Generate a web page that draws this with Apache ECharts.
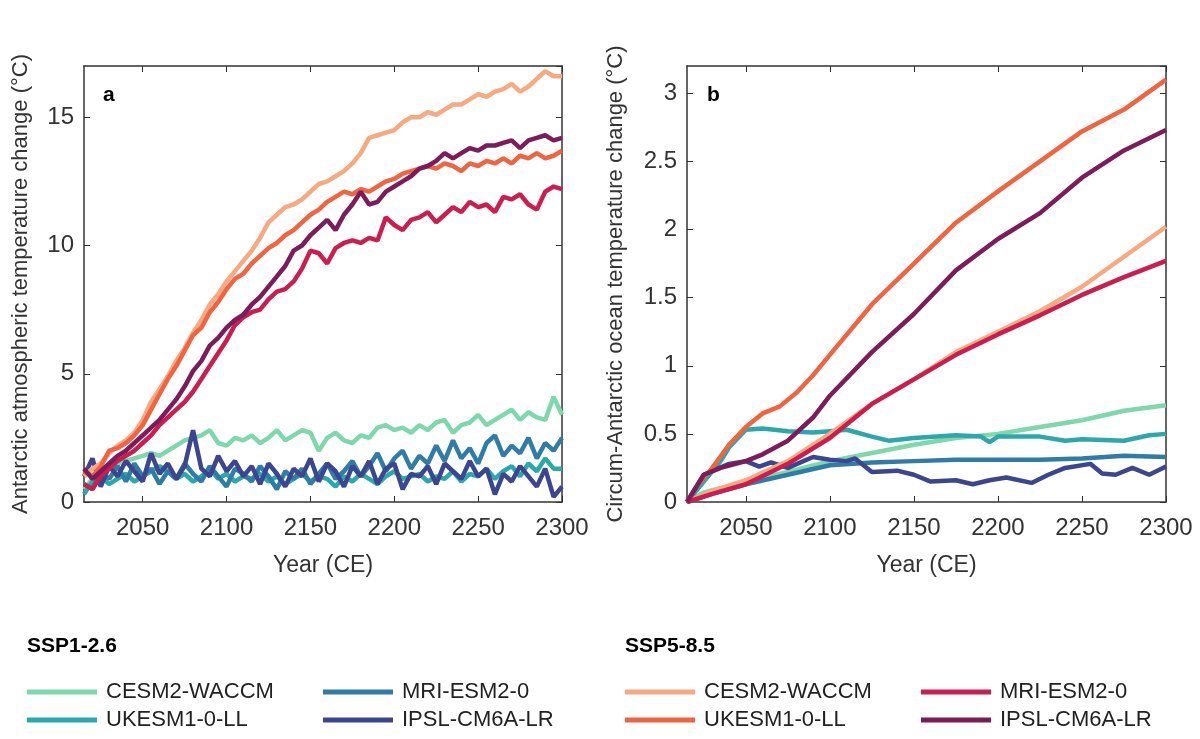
<!DOCTYPE html>
<html>
<head>
<meta charset="utf-8">
<script src="https://cdn.jsdelivr.net/npm/echarts@6/dist/echarts.min.js"></script>
<style>
  html, body { margin: 0; padding: 0; background: #fff; }
  #chart { width: 1200px; height: 739px; }
</style>
</head>
<body>
<div id="chart"></div>
<script>
// panel a: 5-year steps, 2015..2300
const yearsA = [];
for (let y = 2015; y <= 2300; y += 5) yearsA.push(y);

const atmSSP1 = {
  "CESM2-WACCM": [0.5,0.9,1.2,1.3,1.5,1.6,1.7,1.8,1.9,1.8, 2.0,2.2,2.4,2.5,2.6,2.8,2.3,2.2,2.5,2.4, 2.6,2.3,2.5,2.8,2.4,2.6,2.8,2.7,2.0,2.5, 2.7,2.4,2.3,2.6,2.5,2.9,3.0,2.8,2.9,2.7, 3.0,2.8,3.1,3.2,2.7,3.0,3.1,3.4,3.0,3.2, 3.4,3.6,3.2,3.5,3.3,3.2,4.1,3.4],
  "UKESM1-0-LL": [0.3,0.8,1.0,0.7,0.9,1.1,0.8,1.0,1.2,1.4, 1.2,0.9,1.1,0.8,1.0,1.3,0.9,1.1,0.8,1.0, 0.9,1.1,0.8,1.0,0.7,0.9,1.1,0.8,1.0,0.9, 0.6,1.0,0.8,1.1,0.9,0.7,1.0,1.2,0.9,1.0, 1.1,0.8,1.0,0.9,1.2,0.8,1.1,1.0,1.3,0.9, 1.2,1.4,1.0,1.5,1.2,1.7,1.3,1.3],
  "MRI-ESM2-0": [0.7,0.5,1.2,0.9,1.4,0.8,1.5,1.0,1.3,0.7, 1.2,0.9,1.5,1.1,0.8,1.4,1.0,0.6,1.3,1.1, 0.8,1.4,1.0,0.5,1.2,0.9,1.3,0.7,1.1,1.5, 0.9,1.2,1.6,1.0,1.4,1.9,1.2,1.7,2.0,1.3, 1.8,1.5,2.2,1.6,2.4,1.7,2.1,1.5,2.3,2.6, 1.8,2.2,1.9,2.5,1.7,2.3,2.0,2.5],
  "IPSL-CM6A-LR": [1.0,1.7,0.6,1.4,1.0,1.6,1.2,0.8,1.9,1.1, 1.5,0.9,1.4,2.8,1.3,1.0,1.8,1.2,1.6,1.0, 1.4,0.7,1.5,1.1,0.6,1.3,1.0,1.7,0.8,1.5, 1.2,0.6,1.4,1.0,1.6,0.7,1.3,1.5,0.5,1.1, 1.0,1.4,0.7,1.5,1.2,0.9,1.6,1.0,1.3,0.3, 1.1,0.8,1.4,1.0,0.6,1.3,0.2,0.6]
};
const atmSSP5 = {
  "CESM2-WACCM": [1.0,1.3,1.5,1.9,2.2,2.4,2.7,3.2,3.9,4.4, 4.9,5.5,6.0,6.6,7.1,7.7,8.1,8.6,9.0,9.4, 9.8,10.3,10.9,11.2,11.5,11.6,11.8,12.1,12.4,12.5, 12.7,12.9,13.2,13.6,14.2,14.3,14.4,14.5,14.8,15.0, 15.0,15.2,15.1,15.3,15.5,15.5,15.7,15.9,15.8,16.0, 16.1,16.3,16.0,16.2,16.5,16.8,16.6,16.6],
  "UKESM1-0-LL": [1.2,1.0,1.4,2.0,2.1,2.3,2.6,3.0,3.6,4.2, 4.8,5.3,5.9,6.5,6.8,7.4,7.8,8.3,8.7,8.9, 9.3,9.6,9.9,10.1,10.4,10.6,10.9,11.2,11.4,11.7, 11.9,12.1,12.0,12.2,12.1,12.3,12.5,12.6,12.8,12.9, 13.0,13.1,13.0,13.2,13.1,12.9,13.2,13.1,13.3,13.2, 13.4,13.2,13.5,13.4,13.6,13.4,13.5,13.7],
  "MRI-ESM2-0": [0.7,0.5,1.0,1.3,1.6,1.8,2.0,2.3,2.6,3.0, 3.3,3.6,3.9,4.3,4.8,5.3,5.8,6.3,6.9,7.2, 7.4,7.5,7.9,8.2,8.3,8.6,9.1,9.8,9.7,9.3, 9.9,10.1,10.2,10.1,10.3,10.2,11.1,10.8,10.6,11.0, 11.1,11.3,10.9,11.2,11.5,11.3,11.7,11.5,11.6,11.3, 11.9,11.8,12.0,11.6,11.4,12.1,12.3,12.2],
  "IPSL-CM6A-LR": [1.3,0.9,1.2,1.5,1.8,2.0,2.3,2.6,2.9,3.2, 3.6,4.0,4.5,5.1,5.5,6.1,6.4,6.8,7.1,7.3, 7.7,8.0,8.4,8.8,9.2,9.8,10.0,10.4,10.7,11.0, 10.6,11.2,11.6,12.1,11.6,11.7,12.1,12.3,12.5,12.7, 13.0,13.1,13.3,13.6,13.4,13.6,13.8,13.7,13.9,13.9, 14.0,14.1,13.8,14.1,14.2,14.3,14.1,14.2]
};

// panel b: [year, value] pairs
const ocnSSP1 = {
  "CESM2-WACCM": [[2015,0],[2025,0.07],[2050,0.15],[2075,0.22],[2100,0.3],[2125,0.36],[2150,0.42],[2175,0.47],[2200,0.5],[2225,0.55],[2250,0.6],[2275,0.67],[2300,0.71]],
  "UKESM1-0-LL": [[2015,0],[2025,0.15],[2035,0.3],[2040,0.4],[2050,0.53],[2060,0.54],[2075,0.52],[2090,0.51],[2100,0.52],[2110,0.53],[2125,0.48],[2135,0.45],[2150,0.47],[2175,0.49],[2190,0.48],[2195,0.44],[2200,0.48],[2225,0.48],[2240,0.45],[2250,0.46],[2275,0.45],[2290,0.49],[2300,0.5]],
  "MRI-ESM2-0": [[2015,0],[2030,0.06],[2050,0.13],[2075,0.2],[2100,0.27],[2125,0.29],[2150,0.3],[2175,0.31],[2200,0.31],[2225,0.31],[2250,0.32],[2275,0.34],[2300,0.33]],
  "IPSL-CM6A-LR": [[2015,0],[2025,0.2],[2040,0.28],[2050,0.3],[2058,0.26],[2065,0.29],[2075,0.25],[2090,0.33],[2100,0.31],[2110,0.3],[2115,0.32],[2125,0.22],[2140,0.23],[2150,0.2],[2160,0.15],[2175,0.16],[2185,0.13],[2195,0.16],[2205,0.18],[2220,0.14],[2230,0.2],[2240,0.25],[2255,0.28],[2262,0.21],[2270,0.2],[2280,0.25],[2290,0.2],[2300,0.26]]
};
const ocnSSP5 = {
  "CESM2-WACCM": [[2015,0],[2030,0.08],[2050,0.16],[2075,0.3],[2100,0.5],[2125,0.72],[2150,0.9],[2175,1.1],[2200,1.25],[2225,1.4],[2250,1.58],[2275,1.8],[2300,2.02]],
  "UKESM1-0-LL": [[2015,0],[2020,0.1],[2030,0.25],[2040,0.42],[2050,0.55],[2060,0.65],[2070,0.7],[2080,0.8],[2090,0.93],[2100,1.08],[2125,1.45],[2150,1.75],[2175,2.05],[2200,2.28],[2225,2.5],[2250,2.72],[2275,2.88],[2300,3.1]],
  "MRI-ESM2-0": [[2015,0],[2030,0.06],[2050,0.13],[2075,0.28],[2100,0.47],[2125,0.72],[2150,0.9],[2175,1.08],[2200,1.23],[2225,1.37],[2250,1.52],[2275,1.65],[2300,1.77]],
  "IPSL-CM6A-LR": [[2015,0],[2025,0.2],[2035,0.25],[2050,0.3],[2060,0.35],[2075,0.45],[2090,0.62],[2100,0.78],[2125,1.1],[2150,1.38],[2175,1.7],[2200,1.93],[2225,2.12],[2250,2.38],[2275,2.58],[2300,2.73]]
};

const models = ["CESM2-WACCM", "UKESM1-0-LL", "MRI-ESM2-0", "IPSL-CM6A-LR"];
const colorsSSP1 = ["#7dd8ab", "#2aa9ad", "#2f7ca8", "#3b4590"];
const colorsSSP5 = ["#f8a980", "#f2633f", "#cc1d4e", "#7d1b5b"];
const yearTicks = [2050, 2100, 2150, 2200, 2250, 2300];

const font = "Liberation Sans, Arial, sans-serif";
const myChart = echarts.init(document.getElementById("chart"));

function xAx(grid, top) {
  return {
    type: "value", gridIndex: grid, min: 2015, max: 2300,
    position: top ? "top" : "bottom",
    name: top ? "" : "Year (CE)", nameLocation: "middle", nameGap: 52,
    nameTextStyle: { fontSize: 23, color: "#333", fontFamily: font },
    axisLine: { show: true, onZero: false, lineStyle: { color: "#333", width: 1.5 } },
    axisTick: { inside: true, length: 6, lineStyle: { color: "#333" }, customValues: yearTicks },
    axisLabel: { show: !top, fontSize: 24, color: "#333", fontFamily: font, margin: 14,
      customValues: yearTicks, formatter: (v) => String(v) },
    splitLine: { show: false }
  };
}
function yAx(grid, right, max, interval, name) {
  return {
    type: "value", gridIndex: grid, min: 0, max: max, interval: interval,
    position: right ? "right" : "left",
    name: right ? "" : name, nameLocation: "middle", nameGap: right ? 0 : (grid === 0 ? 52 : 60),
    nameTextStyle: { fontSize: 22, color: "#333", fontFamily: font },
    axisLine: { show: true, lineStyle: { color: "#333", width: 1.5 } },
    axisTick: { inside: true, length: 6, lineStyle: { color: "#333" } },
    axisLabel: { show: !right, fontSize: 24, color: "#333", fontFamily: font, margin: 10,
      showMaxLabel: false, formatter: (v) => String(v) },
    splitLine: { show: false }
  };
}

const series = [];
const legends = [];
function addSeries(data, colors, grid, tag, withYears) {
  models.forEach((m, i) => {
    series.push({
      name: m + "|" + tag,
      type: "line",
      xAxisIndex: grid * 2, yAxisIndex: grid * 2,
      data: withYears ? data[m].map((v, k) => [yearsA[k], v]) : data[m],
      symbol: "none",
      lineStyle: { width: 4.5, color: colors[i] },
      itemStyle: { color: colors[i] },
      z: tag === "SSP5" ? 3 : 2
    });
  });
}
addSeries(atmSSP1, colorsSSP1, 0, "SSP1", true);
addSeries(atmSSP5, colorsSSP5, 0, "SSP5", true);
addSeries(ocnSSP1, colorsSSP1, 1, "SSP1", false);
addSeries(ocnSSP5, colorsSSP5, 1, "SSP5", false);

// legend: 2x2 blocks per scenario
const legendPos = [[22, 676], [22, 704], [318, 676], [318, 704]];
[["SSP1", 0], ["SSP5", 598]].forEach(([tag, dx]) => {
  models.forEach((m, i) => {
    legends.push({
      data: [m + "|" + tag], left: legendPos[i][0] + dx, top: legendPos[i][1],
      icon: "rect", itemWidth: 70, itemHeight: 5, itemGap: 0,
      selectedMode: false,
      formatter: (n) => n.split("|")[0],
      textStyle: { fontSize: 22, color: "#222", fontFamily: font, padding: [0, 0, 0, 4] }
    });
  });
});

const option = {
  animation: false,
  backgroundColor: "#fff",
  title: [
    { text: "a", left: 98, top: 80, textStyle: { fontSize: 21, fontWeight: "bold", color: "#000", fontFamily: font } },
    { text: "b", left: 702, top: 80, textStyle: { fontSize: 21, fontWeight: "bold", color: "#000", fontFamily: font } },
    { text: "SSP1-2.6", left: 22, top: 631, textStyle: { fontSize: 21, fontWeight: "bold", color: "#000", fontFamily: font } },
    { text: "SSP5-8.5", left: 620, top: 631, textStyle: { fontSize: 21, fontWeight: "bold", color: "#000", fontFamily: font } }
  ],
  grid: [
    { left: 84, top: 66, width: 478, height: 436 },
    { left: 687, top: 66, width: 479, height: 436 }
  ],
  xAxis: [xAx(0, false), xAx(0, true), xAx(1, false), xAx(1, true)],
  yAxis: [
    yAx(0, false, 17, 5, "Antarctic atmospheric temperature change (°C)"),
    yAx(0, true, 17, 5, ""),
    yAx(1, false, 3.2, 0.5, "Circum-Antarctic ocean temperature change (°C)"),
    yAx(1, true, 3.2, 0.5, "")
  ],
  legend: legends,
  series: series
};

myChart.setOption(option);
window.addEventListener("resize", function () { myChart.resize(); });
</script>
</body>
</html>
